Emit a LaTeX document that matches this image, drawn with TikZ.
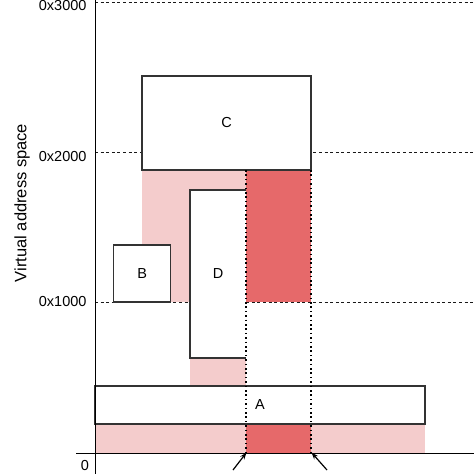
\documentclass[tikz,border=0pt]{standalone}
\usepackage{fontspec}
\setmainfont{Liberation Sans}
\usepackage{tikz}
\usetikzlibrary{arrows.meta}
\definecolor{lightred}{HTML}{F4CCCC}
\definecolor{darkred}{HTML}{E6696A}

\begin{document}
\begin{tikzpicture}[
  x=1pt, y=-1pt,
  every node/.style={font=\fontsize{14.5}{16}\selectfont},
  region/.style={draw=black!80, line width=1.1pt, fill=white, inner sep=0pt, outer sep=0pt},
  grid/.style={dashed, dash pattern=on 3pt off 2.6pt, black!90, line width=1pt},
  bound/.style={black, line width=1.9pt, dash pattern=on 1.6pt off 2.8pt},
  axis/.style={black, line width=1pt},
  pointer/.style={-{Stealth[length=7pt,width=5pt]}, line width=1.2pt}
]
\useasboundingbox (0,0) rectangle (474,474);
% Shaded parts
\fill[lightred] (142,170) rectangle (190,302);
\fill[lightred] (190,170) rectangle (246,190);
\fill[lightred] (190,358) rectangle (246,386);
\fill[lightred] (95,424) rectangle (425,453);
\fill[darkred] (246,170) rectangle (311,302);
\fill[darkred] (246,424) rectangle (311,453);
% Address lines
\node[anchor=east] (l3) at (90,6) {0x3000};
\node[anchor=east] (l2) at (90,157) {0x2000};
\node[anchor=east] (l1) at (90,302) {0x1000};
\node (l0) at (85,466) {0};
\draw[grid] (95,2) -- (474,2);
\draw[grid] (95,152) -- (474,152);
\draw[grid] (95,302) -- (474,302);
% Regions
\node[region, minimum width=169pt, minimum height=94pt] (c) at (226.5,123) {C};
\node[region, minimum width=57pt, minimum height=57pt] (b) at (142.3,273.5) {B};
\node[region, draw=none, minimum width=56pt, minimum height=168pt] (d) at (218,274) {D};
\draw[black!80, line width=1.1pt] (d.north east) -- (d.north west) -- (d.south west) -- (d.south east);
\node[region, minimum width=330pt, minimum height=38pt] (a) at (260,405) {A};
% Axes
\draw[axis] (95,0) -- (95,474);
\draw[axis] (76,453) -- (474,453);
\node[rotate=90, font=\fontsize{16.5}{18}\selectfont] (ylab) at (22,203) {Virtual address space};
% Dotted bounds
\draw[bound] (246,170) -- (246,453);
\draw[bound] (311,170) -- (311,453);
% Arrows
\coordinate (lo) at (246.5,452.5);
\coordinate (hi) at (311.5,452.5);
\coordinate (lotail) at (233,470);
\coordinate (hitail) at (327,470);
\draw[pointer] (lotail) -- (lo);
\draw[pointer] (hitail) -- (hi);
\end{tikzpicture}
\end{document}
